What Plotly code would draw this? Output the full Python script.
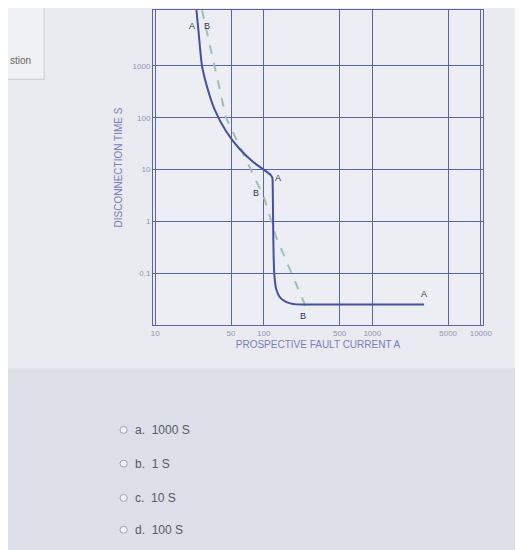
import math
import plotly.graph_objects as go

a_x = [24, 25, 27, 30, 35, 45, 60, 80, 100, 115, 120, 121, 122, 123, 125, 130, 140, 160, 200, 300, 1000, 3000]
a_y = [12000, 5000, 1000, 400, 150, 55, 25, 14, 10, 8, 7, 5, 1, 0.3, 0.1, 0.05, 0.035, 0.028, 0.025, 0.025, 0.025, 0.025]
b_x = [27, 35, 45, 100, 130, 250]
b_y = [12000, 1000, 100, 3, 0.5, 0.02]
x_ticks = [10, 50, 100, 500, 1000, 5000, 10000]
y_ticks = [0.1, 1, 10, 100, 1000]
options = ["a.  1000 S", "b.  1 S", "c.  10 S", "d.  100 S"]

fig = go.Figure()
fig.add_trace(go.Scatter(x=b_x, y=b_y, mode="lines", line=dict(color="#9fc0b8", width=2, dash="dash")))
fig.add_trace(go.Scatter(x=a_x, y=a_y, mode="lines", line=dict(color="#4450a0", width=2, shape="spline", smoothing=0.6)))
ann = [("A", 22, 6000), ("B", 30, 6000), ("A", 135, 7), ("B", 85, 3.5), ("A", 3000, 0.04), ("B", 230, 0.015)]
for t, x, y in ann:
    fig.add_annotation(x=math.log10(x), y=math.log10(y), text=t, showarrow=False, font=dict(size=9, color="#333355"))
fig.update_xaxes(type="log", range=[0.98, 4.02], tickvals=x_ticks, ticktext=[str(v) for v in x_ticks],
                 showgrid=True, gridcolor="#5a64a8", gridwidth=1, linecolor="#5a64a8", mirror=True, showline=True,
                 tickfont=dict(size=8, color="#9096b0"), ticks="",
                 title=dict(text="PROSPECTIVE FAULT CURRENT A", font=dict(size=10, color="#7a80b8"), standoff=4))
fig.update_yaxes(type="log", range=[-2, 4.08], tickvals=y_ticks, ticktext=[str(v) for v in y_ticks],
                 showgrid=True, gridcolor="#5a64a8", gridwidth=1, linecolor="#5a64a8", mirror=True, showline=True,
                 tickfont=dict(size=8, color="#9096b0"), ticks="",
                 title=dict(text="DISCONNECTION TIME S", font=dict(size=10, color="#7a80b8"), standoff=8))
shapes = [dict(type="rect", xref="paper", yref="paper", x0=-0.5, x1=1.2, y0=-0.8, y1=-0.137,
               fillcolor="#dde0e8", line=dict(width=0), layer="below"),
          dict(type="rect", xref="paper", yref="paper", x0=-0.5, x1=-0.33, y0=0.78, y1=1.02,
               fillcolor="#f0f1f4", line=dict(color="#c8cad2", width=1), layer="below")]
for i, o in enumerate(options):
    yy = [-0.333, -0.44, -0.549, -0.65][i]
    shapes.append(dict(type="circle", xref="paper", yref="paper", x0=-0.1, x1=-0.078, y0=yy - 0.011, y1=yy + 0.011,
                       line=dict(color="#a0a4b0", width=1), fillcolor="#f4f4f6"))
    fig.add_annotation(xref="paper", yref="paper", x=-0.06, y=yy, text=o, showarrow=False, xanchor="left",
                       yanchor="middle", font=dict(size=12, color="#555a66"))
fig.add_annotation(xref="paper", yref="paper", x=-0.44, y=0.84, text="stion", showarrow=False, xanchor="left",
                   yanchor="middle", font=dict(size=10, color="#666"))
fig.update_layout(width=523, height=550, margin=dict(l=145, r=48, t=2, b=233), showlegend=False,
                  paper_bgcolor="#e9ebf0", plot_bgcolor="#eceef3", shapes=shapes,
                  font=dict(family="Liberation Sans"))
fig.write_html("out.html")
